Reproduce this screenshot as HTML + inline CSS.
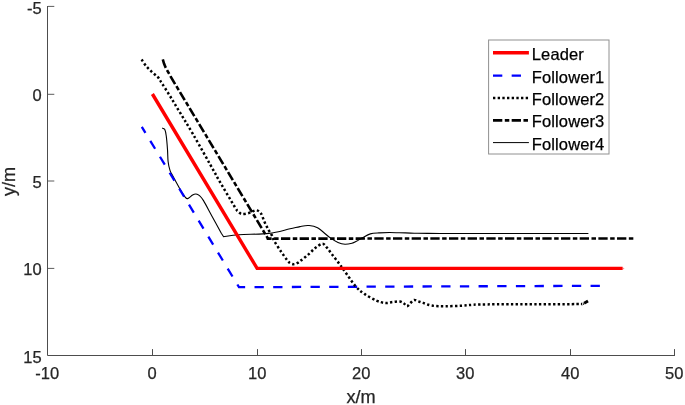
<!DOCTYPE html>
<html><head><meta charset="utf-8"><title>plot</title>
<style>
html,body{margin:0;padding:0;background:#fff;}
body{width:685px;height:405px;overflow:hidden;}
svg{display:block;}
text{font-family:"Liberation Sans",Arial,sans-serif;}
</style></head><body>
<svg width="685" height="405" viewBox="0 0 685 405">
<rect width="685" height="405" fill="#ffffff"/>

<g stroke="#4d4d4d" stroke-width="1" fill="none">
<path d="M47.5,6.0 V355.5 H675"/>
<path d="M152.50,355.5 V349.1"/>
<path d="M257.50,355.5 V349.1"/>
<path d="M361.50,355.5 V349.1"/>
<path d="M465.50,355.5 V349.1"/>
<path d="M570.50,355.5 V349.1"/>
<path d="M674.50,355.5 V349.1"/>
</g>
<g stroke="#5c5c5c" stroke-width="1" fill="none">
<path d="M48.0,6.40 H54.3"/>
<path d="M48.0,94.30 H54.3"/>
<path d="M48.0,181.00 H54.3"/>
<path d="M48.0,268.40 H54.3"/>
</g>
<g font-size="16.5" fill="#262626" stroke="#262626" stroke-width="0.25">
<text x="47.20" y="379.0" text-anchor="middle">-10</text>
<text x="152.20" y="379.0" text-anchor="middle">0</text>
<text x="257.20" y="379.0" text-anchor="middle">10</text>
<text x="361.20" y="379.0" text-anchor="middle">20</text>
<text x="465.20" y="379.0" text-anchor="middle">30</text>
<text x="570.20" y="379.0" text-anchor="middle">40</text>
<text x="674.20" y="379.0" text-anchor="middle">50</text>
<text x="41.7" y="13.70" text-anchor="end">-5</text>
<text x="41.7" y="101.20" text-anchor="end">0</text>
<text x="41.7" y="187.60" text-anchor="end">5</text>
<text x="41.7" y="275.20" text-anchor="end">10</text>
<text x="41.7" y="363.10" text-anchor="end">15</text>
</g>
<g font-size="18.15" fill="#262626" stroke="#262626" stroke-width="0.25" text-anchor="middle">
<text x="361" y="403.1">x/m</text>
<text transform="translate(14.9,181.5) rotate(-90)">y/m</text>
</g>
<g fill="none" stroke-linejoin="miter" stroke-linecap="butt">
<path d="M162.1,128.1 C162.6,128.3 164.1,128.2 164.8,129.6 C165.5,131.0 165.9,133.0 166.3,136.3 C166.8,139.6 167.2,145.4 167.5,149.6 C167.8,153.8 167.7,158.0 168.1,161.5 C168.5,165.0 169.3,168.2 170.0,170.4 C170.7,172.6 170.6,171.8 172.2,174.8 C173.8,177.9 177.7,185.0 179.8,188.7 C181.9,192.4 183.7,195.2 185.0,196.8 C186.3,198.5 186.4,198.9 187.7,198.6 C189.0,198.3 191.2,195.8 192.6,195.0 C194.0,194.2 194.8,193.9 196.0,194.0 C197.2,194.1 198.2,194.5 199.5,195.6 C200.8,196.7 201.3,197.0 203.5,200.6 C205.7,204.2 209.4,211.5 212.4,216.9 C215.4,222.3 219.8,230.5 221.3,233.2 L223.6,236.7 C226.2,236.4 231.4,235.4 239.0,234.8 C246.6,234.2 260.4,234.4 268.9,233.4 C277.4,232.4 284.8,229.9 290.0,228.8 C295.2,227.7 296.9,227.2 300.0,226.6 C303.1,226.0 305.6,225.3 308.5,225.5 C311.4,225.7 313.9,225.7 317.5,227.8 C321.1,229.9 326.9,235.5 330.3,237.9 C333.7,240.3 335.6,241.4 338.0,242.5 C340.4,243.6 342.7,244.2 345.0,244.3 C347.3,244.4 350.1,243.7 352.0,243.2 C353.9,242.7 354.6,242.2 356.3,241.3 C358.0,240.4 360.1,239.0 362.4,237.8 C364.7,236.6 367.5,234.7 370.3,233.9 C373.1,233.1 375.8,233.1 379.0,232.9 C382.2,232.7 385.2,232.5 389.6,232.5 C394.0,232.5 400.6,232.8 405.3,232.9 C410.0,233.0 411.8,233.2 417.6,233.3 C423.4,233.4 436.3,233.5 440.0,233.5 L588.4,233.5" stroke="#000" stroke-width="1.1"/>
<path d="M141.8,126.8 L239.0,287.2 L600.0,285.8" stroke="#0000ff" stroke-width="2.3" stroke-dasharray="9.3 9.37" stroke-dashoffset="2.30"/>
<path d="M141.6,59.6 C142.4,60.7 144.5,64.2 146.3,66.3 C148.1,68.4 150.2,70.3 152.2,72.2 C154.2,74.1 156.5,75.6 158.1,77.4 C159.7,79.2 160.0,80.4 161.9,83.3 C163.8,86.2 166.7,90.7 169.3,94.9 C171.9,99.1 173.4,101.7 177.4,108.3 C181.4,114.9 187.1,124.0 193.2,134.5 C199.3,145.0 209.9,164.0 214.1,171.5 C218.3,179.0 215.1,173.6 218.5,179.5 C221.9,185.4 231.6,201.7 234.8,207.0 C238.1,212.3 236.8,210.3 238.0,211.5 C239.2,212.7 240.4,213.8 242.2,214.1 C244.0,214.3 247.1,213.5 248.9,213.0 C250.7,212.5 251.7,211.6 253.0,211.2 C254.3,210.8 255.7,210.0 257.0,210.4 C258.3,210.8 259.8,211.7 261.0,213.5 C262.2,215.3 263.1,218.8 264.3,221.5 C265.5,224.2 267.1,227.4 268.3,229.6 C269.5,231.8 270.6,232.9 271.6,234.8 C272.6,236.7 272.7,238.2 274.3,241.0 C275.9,243.8 278.8,248.3 281.0,251.5 C283.2,254.7 285.8,258.4 287.3,260.3 C288.9,262.2 289.2,262.6 290.3,263.2 C291.4,263.8 292.5,264.2 293.6,264.2 C294.7,264.2 295.8,263.8 297.0,263.2 C298.2,262.6 298.9,262.0 300.8,260.6 C302.7,259.2 305.7,256.7 308.2,254.6 C310.7,252.5 313.2,249.6 315.6,247.8 C318.0,246.0 320.5,243.9 322.4,243.8 C324.2,243.7 325.0,245.6 326.7,247.4 C328.4,249.2 330.2,252.1 332.3,254.8 C334.4,257.5 337.2,260.9 339.1,263.5 C341.1,266.1 341.2,266.4 344.0,270.2 C346.8,274.0 352.2,282.4 355.6,286.3 C359.0,290.2 360.9,291.5 364.4,293.9 C367.8,296.3 372.8,299.0 376.3,300.5 C379.8,302.0 382.4,302.8 385.2,303.0 C388.0,303.2 390.5,302.2 393.0,302.0 C395.5,301.8 398.2,301.2 400.0,301.5 C401.8,301.8 402.8,302.7 404.0,303.5 C405.2,304.3 405.9,306.4 407.0,306.3 C408.1,306.2 409.3,304.1 410.5,303.0 C411.7,301.9 412.8,300.3 414.0,300.0 C415.2,299.7 416.5,300.7 418.0,301.2 C419.5,301.7 420.7,302.2 423.0,302.9 C425.3,303.6 428.2,305.0 431.9,305.6 C435.6,306.2 440.0,306.3 445.2,306.3 C450.4,306.3 457.3,305.9 463.0,305.6 C468.7,305.3 469.8,304.7 479.3,304.5 C488.8,304.3 503.8,304.3 520.0,304.2 C536.2,304.1 565.9,304.2 576.3,304.1 C586.7,304.1 581.2,303.9 582.2,303.9" stroke="#000" stroke-width="2.5" stroke-dasharray="2.35 2.32"/>
<path d="M162.8,59.4 L164.0,63.5 L165.6,67.5 L170.4,76.2 L268.0,238.6" stroke="#000" stroke-width="2.6" stroke-dasharray="9.3 2.5 4.5 2.37" stroke-dashoffset="0.3"/>
<path d="M266.7,238.6 L634.2,238.5" stroke="#000" stroke-width="2.6" stroke-dasharray="9.3 2.5 4.5 2.37" stroke-dashoffset="4.4"/>
<path d="M584.1,303.25 L588.0,301.0" stroke="#000" stroke-width="2.9"/>
<path d="M622.5,267.2 L624.6,268.45 L622.5,269.7 Z" fill="#ff0000" fill-opacity="0.45" stroke="none"/>
<path d="M152.4,94.0 L257.1,268.4 L622.6,268.4" stroke="#ff0000" stroke-width="3.4"/>
</g>
<rect x="488.6" y="40" width="120.4" height="114.0" fill="#fff" stroke="#909090" stroke-width="1"/>
<g fill="none" stroke-linecap="butt">
<path d="M493,52.7 H528.9" stroke="#ff0000" stroke-width="3.4"/>
<path d="M493,75.6 H528.9" stroke="#0000ff" stroke-width="2.3" stroke-dasharray="9.3 9.37"/>
<path d="M493,98.0 H528.9" stroke="#000" stroke-width="2.5" stroke-dasharray="2.35 2.32"/>
<path d="M493,120.4 H528.9" stroke="#000" stroke-width="2.6" stroke-dasharray="9.3 2.5 4.5 2.37"/>
<path d="M493,142.6 H528.9" stroke="#000" stroke-width="1"/>
</g>
<g font-size="16.5" fill="#000" stroke="#000" stroke-width="0.25" letter-spacing="0.12">
<text x="531.8" y="59.70">Leader</text>
<text x="531.8" y="82.60">Follower1</text>
<text x="531.8" y="105.00">Follower2</text>
<text x="531.8" y="127.40">Follower3</text>
<text x="531.8" y="149.60">Follower4</text>
</g>
</svg></body></html>
